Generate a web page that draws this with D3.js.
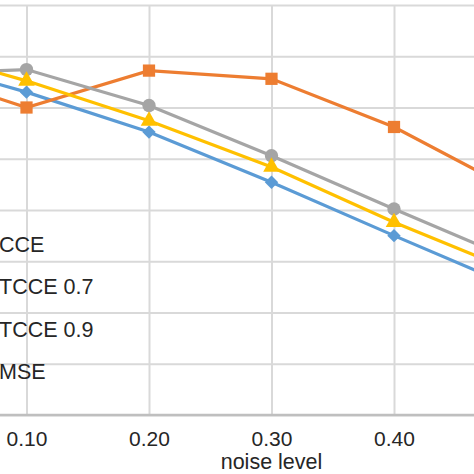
<!DOCTYPE html>
<html lang="en">
<head>
<meta charset="UTF-8">
<title>Accuracy vs noise level</title>
<script src="https://d3js.org/d3.v7.min.js"></script>
<style>
    body, html { margin: 0; padding: 0; background: #fff; }
    svg { display: block; font-family: "Liberation Sans", Arial, sans-serif; }
    .grid line { stroke: #d9d9d9; stroke-width: 2; }
    .grid path { display: none; }
    .tick text { fill: #262626; font-size: 21px; }
</style>
</head>
<body>
<svg width="474" height="474" id="chart"></svg>
<script>
    // noise levels on the x axis
    const noiseLevels = [0.0, 0.1, 0.2, 0.3, 0.4, 0.5];
    // only these labels fall inside the cropped window
    const xTickLabels = ["0.10", "0.20", "0.30", "0.40"];

    // series (y labels are cropped out of the image)
    const seriesNames = ["CCE", "TCCE 0.7", "TCCE 0.9", "MSE"];
    const cceValues = [0.849, 0.815, 0.776, 0.727, 0.675, 0.624];
    const tcce07Values = [0.839, 0.800, 0.836, 0.828, 0.781, 0.718];
    const tcce09Values = [0.832, 0.837, 0.802, 0.753, 0.701, 0.650];
    const mseValues = [0.860, 0.826, 0.787, 0.742, 0.688, 0.639];

    const yTicks = [0.50, 0.55, 0.60, 0.65, 0.70, 0.75, 0.80, 0.85, 0.90];

    const colors = ["#5b9bd5", "#ed7d31", "#a5a5a5", "#ffc000"];
    // diamond = square turned 45 degrees
    const symbols = [d3.symbolSquare, d3.symbolSquare, d3.symbolCircle, d3.symbolTriangle];
    const symbolRot = [45, 0, 0, 0];
    const symbolSizes = [90, 150, 140, 120];

    const series = [cceValues, tcce07Values, tcce09Values, mseValues].map((vals, i) => ({
        name: seriesNames[i],
        values: vals.map((v, j) => ({ x: noiseLevels[j], y: v }))
    }));

    const svg = d3.select("#chart");

    // plot area is larger than the window: left side is cropped like the reference
    const x = d3.scaleLinear().domain([0, 0.5]).range([-96, 516.5]);
    const y = d3.scaleLinear().domain([0.50, 0.90]).range([415, 5]);

    // horizontal grid
    svg.append("g")
        .attr("class", "grid")
        .attr("transform", `translate(${x(0)},0)`)
        .call(d3.axisLeft(y).tickValues(yTicks).tickSize(-(x(0.5) - x(0))).tickFormat(""));

    // vertical grid + x labels
    const xAxis = svg.append("g")
        .attr("class", "grid")
        .attr("transform", `translate(0,${y(0.50)})`)
        .call(d3.axisBottom(x).tickValues(noiseLevels).tickSize(-(y(0.50) - y(0.90)))
            .tickFormat(d => {
                const s = d3.format(".2f")(d);
                return xTickLabels.includes(s) ? s : "";
            }));
    xAxis.selectAll("text").attr("dy", 0).attr("y", 31);

    // bottom axis line
    svg.append("line")
        .attr("x1", x(0)).attr("x2", x(0.5))
        .attr("y1", y(0.50)).attr("y2", y(0.50))
        .attr("stroke", "#bfbfbf").attr("stroke-width", 2.5);

    const line = d3.line().x(d => x(d.x)).y(d => y(d.y));

    const lines = svg.selectAll(".series")
        .data(series)
        .enter()
        .append("g")
        .attr("class", "series");

    lines.append("path")
        .attr("d", d => line(d.values))
        .attr("fill", "none")
        .attr("stroke", (d, i) => colors[i])
        .attr("stroke-width", 3.2);

    lines.each(function (s, i) {
        d3.select(this).selectAll("path.marker")
            .data(s.values)
            .enter()
            .append("path")
            .attr("class", "marker")
            .attr("transform", d => `translate(${x(d.x)},${y(d.y)}) rotate(${symbolRot[i]})`)
            .attr("d", d3.symbol().type(symbols[i]).size(symbolSizes[i]))
            .attr("fill", colors[i]);
    });

    // legend (markers fall outside the cropped window)
    const legend = svg.append("g").attr("transform", "translate(-1,0)");
    const items = legend.selectAll("g")
        .data(seriesNames)
        .enter()
        .append("g")
        .attr("transform", (d, i) => `translate(0,${251.5 + i * 42.6})`);
    items.append("line")
        .attr("x1", -60).attr("x2", -14).attr("y1", -7).attr("y2", -7)
        .attr("stroke", (d, i) => colors[i]).attr("stroke-width", 3.2);
    items.append("path")
        .attr("transform", (d, i) => `translate(-37,-7) rotate(${symbolRot[i]})`)
        .attr("d", (d, i) => d3.symbol().type(symbols[i]).size(symbolSizes[i])())
        .attr("fill", (d, i) => colors[i]);
    items.append("text")
        .attr("x", 0)
        .attr("fill", "#262626")
        .attr("font-size", 21.5)
        .text(d => d);

    // x axis title
    svg.append("text")
        .attr("x", x(0.3))
        .attr("y", 468.5)
        .attr("text-anchor", "middle")
        .attr("fill", "#262626")
        .attr("font-size", 21.5)
        .text("noise level");
</script>
</body>
</html>
